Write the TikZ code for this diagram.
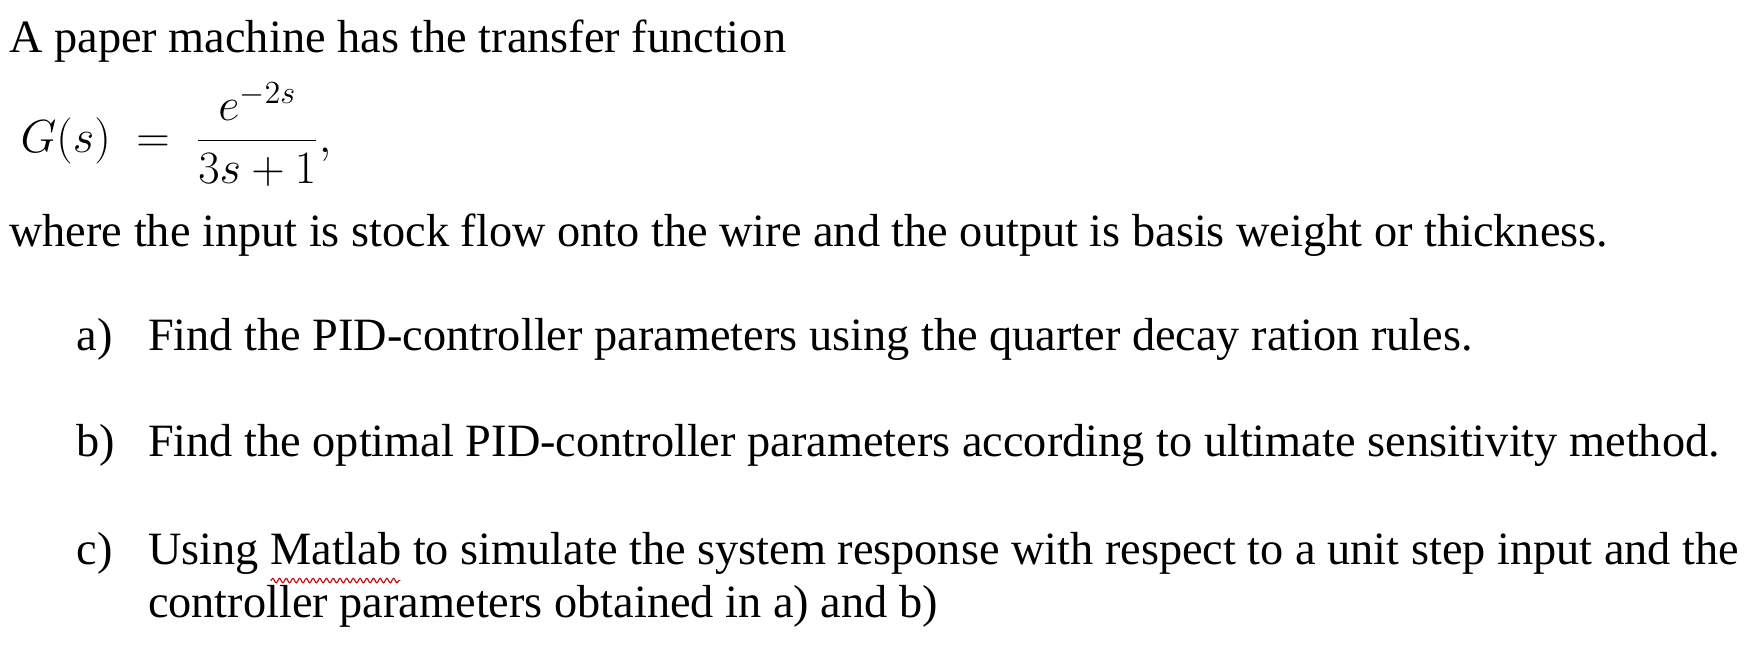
\documentclass[tikz,border=0pt]{standalone}
\usepackage{fontspec}
\setmainfont{Liberation Serif}
\usetikzlibrary{decorations.pathmorphing}
\begin{document}
\begin{tikzpicture}[x=0.5pt,y=-0.5pt,
  txt/.style={anchor=base west,inner sep=0pt,font=\fontsize{20.7}{25}\selectfont}]
\useasboundingbox (0,0) rectangle (1568,585);
\node[txt] (l1) at (8,47) {A paper machine has the transfer function};
\node[txt] (g) at (18,136) {$\displaystyle G(s)\;=\;\frac{e^{-2s}}{3s+1},$};
\node[txt] (l2) at (8,220) {where the input is stock flow onto the wire and the output is basis weight or thickness.};
\node[txt] (a) at (68,313) {a)};
\node[txt] (at) at (132,313) {Find the PID-controller parameters using the quarter decay ration rules.};
\node[txt] (b) at (68,408) {b)};
\node[txt] (bt) at (132,408) {Find the optimal PID-controller parameters according to ultimate sensitivity method.};
\node[txt] (c) at (68,505) {c)};
\node[txt] (ct) at (132,505) {Using Matlab to simulate the system response with respect to a unit step input and the};
\node[txt] (ct2) at (132,552) {controller parameters obtained in a) and b)};
\draw[red!80!black,line width=0.5pt,decorate,decoration={snake,amplitude=1pt,segment length=3pt}] (242,519) -- (358,519);
\end{tikzpicture}
\end{document}
